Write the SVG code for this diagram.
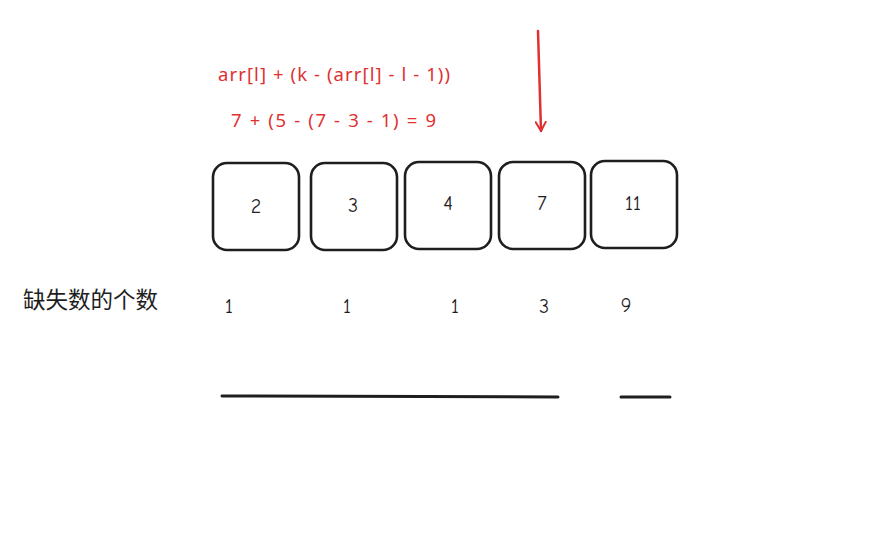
<svg xmlns="http://www.w3.org/2000/svg" width="878" height="552" viewBox="0 0 878 552">
<defs>
<style>
.box{fill:none;stroke:#1e1e1e;stroke-width:2.6}
.num{font-family:"Comic Neue","Liberation Sans",sans-serif;font-size:20px;fill:#1e1e1e;text-anchor:middle}
.red{font-family:"Noto Sans","Liberation Sans",sans-serif;font-size:18.5px;fill:#e03131}
.lbl{font-family:"Noto Sans CJK SC",sans-serif;font-size:22.5px;fill:#1e1e1e}
.ln{stroke:#1e1e1e;stroke-width:3;stroke-linecap:round;fill:none}
</style>
<marker id="ah" viewBox="0 0 12 12" refX="10" refY="6" markerWidth="12" markerHeight="12" markerUnits="userSpaceOnUse" orient="auto">
<path d="M1,1 L10,6 L1,11" fill="none" stroke="#e03131" stroke-width="2" stroke-linecap="round" stroke-linejoin="round"/>
</marker>
</defs>
<rect width="878" height="552" fill="#ffffff"/>
<g id="formula">
<text class="red" x="218" y="81" textLength="232" lengthAdjust="spacing">arr[l] + (k - (arr[l] - l - 1))</text>
<text class="red" x="231" y="127" textLength="205" lengthAdjust="spacing">7 + (5 - (7 - 3 - 1) = 9</text>
</g>
<g id="connectors">
<path d="M538,31 L541,131" stroke="#e03131" stroke-width="2.5" stroke-linecap="round" fill="none" marker-end="url(#ah)"/>
</g>
<g id="n2"><rect class="box" x="213" y="163" width="86" height="87" rx="14"/><text class="num" x="256" y="213">2</text></g>
<g id="n3"><rect class="box" x="311" y="163" width="86" height="87" rx="14"/><text class="num" x="353" y="212">3</text></g>
<g id="n4"><rect class="box" x="405" y="162" width="86" height="87" rx="14"/><text class="num" x="448" y="210">4</text></g>
<g id="n7"><rect class="box" x="499" y="162" width="86" height="87" rx="14"/><text class="num" x="542" y="210">7</text></g>
<g id="n11"><rect class="box" x="591" y="161" width="86" height="87" rx="14"/><text class="num" x="633" y="210">11</text></g>
<g id="label"><text class="lbl" x="23" y="308">缺失数的个数</text></g>
<g id="counts">
<text class="num" x="229" y="313">1</text>
<text class="num" x="347" y="313">1</text>
<text class="num" x="455" y="313">1</text>
<text class="num" x="544" y="313">3</text>
<text class="num" x="626" y="312">9</text>
</g>
<g id="lines">
<path class="ln" d="M222,396 L558,397"/>
<path class="ln" d="M621,397 L670,397"/>
</g>
</svg>
